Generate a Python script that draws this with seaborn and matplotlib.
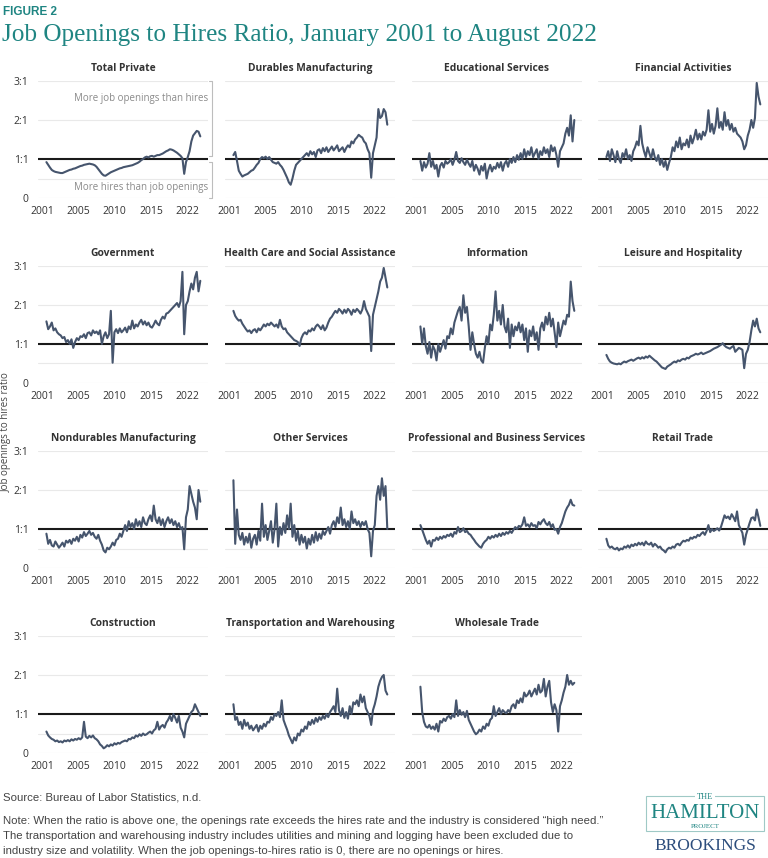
import numpy as np
import pandas as pd
import matplotlib
matplotlib.use("Agg")
import matplotlib.pyplot as plt
import matplotlib.transforms as mtransforms
from matplotlib.patches import Rectangle
import seaborn as sns

# ---------------- data (quarterly readings, 2001Q1 .. 2022Q3) ----------------
industries = [
    "Total Private", "Durables Manufacturing", "Educational Services", "Financial Activities",
    "Government", "Health Care and Social Assistance", "Information", "Leisure and Hospitality",
    "Nondurables Manufacturing", "Other Services", "Professional and Business Services", "Retail Trade",
    "Construction", "Transportation and Warehousing", "Wholesale Trade",
]

total_private = [
    0.92, 0.85, 0.78, 0.72, 0.69, 0.67, 0.66, 0.65, 0.64, 0.64, 0.66, 0.68,
    0.70, 0.72, 0.73, 0.75, 0.76, 0.78, 0.80, 0.82, 0.83, 0.85, 0.86, 0.87,
    0.88, 0.87, 0.86, 0.84, 0.80, 0.74, 0.68, 0.62, 0.58, 0.57, 0.60, 0.63,
    0.66, 0.68, 0.70, 0.72, 0.74, 0.76, 0.77, 0.79, 0.80, 0.81, 0.82, 0.83,
    0.84, 0.86, 0.88, 0.90, 0.93, 0.97, 1.00, 1.04, 1.06, 1.04, 1.07, 1.08,
    1.06, 1.08, 1.10, 1.10, 1.12, 1.14, 1.17, 1.20, 1.22, 1.25, 1.24, 1.22,
    1.19, 1.16, 1.12, 1.08, 1.02, 0.62, 0.92, 1.05, 1.20, 1.45, 1.60, 1.66,
    1.72, 1.70, 1.58,
]
durables_mfg = [
    1.10, 1.18, 0.95, 0.70, 0.62, 0.55, 0.58, 0.60, 0.62, 0.66, 0.70, 0.72,
    0.78, 0.85, 0.90, 1.00, 1.05, 1.02, 1.06, 1.00, 1.05, 0.98, 0.92, 0.90,
    0.88, 0.92, 0.85, 0.80, 0.72, 0.62, 0.52, 0.40, 0.34, 0.50, 0.70, 0.85,
    0.90, 0.95, 1.00, 1.05, 1.10, 1.15, 1.08, 1.20, 1.12, 1.18, 1.05, 1.22,
    1.25, 1.15, 1.28, 1.20, 1.30, 1.18, 1.25, 1.32, 1.22, 1.28, 1.35, 1.20,
    1.25, 1.30, 1.18, 1.28, 1.35, 1.30, 1.45, 1.40, 1.50, 1.55, 1.62, 1.58,
    1.55, 1.45, 1.40, 1.25, 1.15, 0.52, 1.15, 1.35, 1.55, 2.28, 2.05, 2.10,
    2.28, 2.20, 1.88,
]
educational = [
    0.95, 0.70, 0.92, 0.78, 0.88, 1.15, 0.80, 0.95, 0.75, 0.85, 0.55, 0.82,
    0.90, 0.78, 0.95, 0.88, 0.92, 1.00, 0.85, 0.98, 1.18, 0.95, 0.90, 1.02,
    0.92, 0.85, 0.98, 0.88, 0.80, 0.95, 0.70, 0.85, 0.75, 0.60, 0.82, 0.70,
    0.88, 0.50, 0.72, 0.85, 0.68, 0.80, 0.75, 0.90, 0.78, 0.92, 0.70, 0.88,
    0.95, 0.80, 1.00, 0.90, 1.05, 0.92, 1.10, 0.98, 1.15, 1.00, 1.25, 1.05,
    1.20, 1.10, 1.30, 1.05, 1.15, 1.25, 1.00, 1.20, 1.10, 1.30, 1.15, 1.25,
    1.05, 1.35, 1.20, 1.30, 1.10, 0.80, 1.20, 1.30, 1.40, 1.65, 1.80, 1.60,
    2.12, 1.45, 2.00,
]
financial = [
    1.05, 1.20, 0.95, 1.25, 1.10, 0.92, 1.20, 1.00, 0.90, 1.15, 1.05, 1.25,
    1.00, 1.10, 0.95, 1.20, 1.30, 1.45, 1.35, 1.85, 1.40, 1.20, 1.05, 1.30,
    1.15, 1.00, 1.25, 1.05, 0.95, 1.10, 0.85, 1.00, 0.80, 0.95, 0.72, 0.90,
    1.05, 1.30, 1.20, 1.45, 1.30, 1.55, 1.25, 1.40, 1.35, 1.50, 1.30, 1.60,
    1.40, 1.55, 1.75, 1.50, 1.65, 1.50, 1.70, 1.60, 1.75, 2.25, 1.70, 1.90,
    1.65, 1.85, 2.30, 1.80, 1.95, 1.75, 2.20, 1.85, 2.00, 1.75, 1.90, 1.70,
    1.80, 1.65, 1.60, 1.55, 1.45, 1.25, 1.35, 1.60, 1.75, 2.00, 1.80, 2.05,
    2.95, 2.60, 2.40,
]
government = [
    1.58, 1.38, 1.45, 1.55, 1.35, 1.40, 1.30, 1.25, 1.22, 1.15, 1.18, 1.05,
    1.10, 1.00, 1.12, 0.90, 1.05, 1.15, 1.10, 1.20, 1.18, 1.25, 1.15, 1.28,
    1.30, 1.22, 1.35, 1.28, 1.32, 1.25, 1.35, 1.00, 1.20, 1.30, 1.15, 1.25,
    1.85, 0.52, 1.30, 1.38, 1.28, 1.40, 1.30, 1.35, 1.42, 1.30, 1.45, 1.38,
    1.60, 1.40, 1.50, 1.45, 1.55, 1.62, 1.50, 1.58, 1.48, 1.55, 1.45, 1.42,
    1.50, 1.60, 1.52, 1.48, 1.62, 1.70, 1.65, 1.78, 1.80, 1.85, 1.90, 1.95,
    2.00, 2.05, 1.95, 2.10, 2.85, 1.25, 2.00, 2.10, 2.35, 2.55, 2.40, 2.70,
    2.85, 2.35, 2.62,
]
health_care = [
    1.85, 1.72, 1.65, 1.60, 1.62, 1.52, 1.45, 1.38, 1.32, 1.35, 1.28, 1.35,
    1.38, 1.30, 1.40, 1.35, 1.42, 1.50, 1.45, 1.52, 1.48, 1.55, 1.50, 1.45,
    1.50, 1.42, 1.62, 1.45, 1.38, 1.40, 1.30, 1.25, 1.20, 1.15, 1.10, 1.08,
    1.05, 0.95, 1.15, 1.25, 1.30, 1.25, 1.35, 1.32, 1.40, 1.35, 1.45, 1.50,
    1.45, 1.38, 1.48, 1.35, 1.42, 1.55, 1.65, 1.70, 1.78, 1.85, 1.80, 1.90,
    1.85, 1.78, 1.88, 1.80, 1.90, 1.85, 1.75, 1.88, 1.82, 1.90, 1.85, 1.78,
    1.88, 2.10, 1.90, 1.80, 1.70, 0.82, 1.75, 1.95, 2.15, 2.35, 2.60, 2.70,
    2.95, 2.70, 2.45,
]
information = [
    1.45, 1.00, 1.40, 0.95, 0.75, 1.05, 0.65, 0.95, 0.85, 0.58, 1.00, 0.80,
    0.95, 1.10, 0.88, 1.20, 1.15, 1.40, 1.25, 1.55, 1.70, 1.85, 1.95, 1.60,
    2.25, 1.80, 1.95, 1.45, 0.85, 1.30, 1.00, 0.75, 0.65, 0.80, 0.58, 0.52,
    0.90, 1.20, 1.00, 1.50, 1.35, 1.75, 2.35, 1.60, 1.85, 1.50, 2.00, 1.45,
    1.30, 1.65, 0.90, 1.50, 1.20, 1.45, 1.35, 1.55, 1.30, 1.50, 1.10, 1.40,
    0.80, 1.35, 1.20, 1.45, 1.10, 1.30, 0.85, 1.40, 1.55, 1.35, 1.70, 1.50,
    1.80, 1.45, 1.65, 1.30, 0.92, 1.55, 1.20, 1.40, 1.60, 1.50, 1.75, 1.70,
    2.60, 2.10, 1.85,
]
leisure = [
    0.72, 0.62, 0.55, 0.52, 0.50, 0.49, 0.48, 0.50, 0.48, 0.52, 0.55, 0.53,
    0.56, 0.58, 0.60, 0.57, 0.60, 0.63, 0.65, 0.62, 0.66, 0.63, 0.68, 0.65,
    0.70, 0.66, 0.62, 0.58, 0.55, 0.50, 0.45, 0.40, 0.38, 0.36, 0.42, 0.45,
    0.48, 0.52, 0.55, 0.53, 0.58, 0.56, 0.60, 0.62, 0.60, 0.65, 0.63, 0.68,
    0.70, 0.72, 0.75, 0.73, 0.75, 0.78, 0.74, 0.76, 0.78, 0.80, 0.82, 0.85,
    0.88, 0.90, 0.92, 0.95, 0.98, 1.02, 0.96, 0.92, 0.90, 0.88, 0.92, 0.95,
    0.80, 0.85, 0.90, 0.88, 0.85, 0.38, 0.75, 0.85, 1.05, 1.35, 1.60, 1.45,
    1.65, 1.40, 1.30,
]
nondurables_mfg = [
    0.88, 0.62, 0.72, 0.58, 0.55, 0.68, 0.60, 0.52, 0.58, 0.65, 0.55, 0.70,
    0.65, 0.72, 0.62, 0.75, 0.70, 0.80, 0.68, 0.85, 0.78, 0.92, 0.82, 0.88,
    0.95, 0.85, 0.90, 0.80, 0.75, 0.85, 0.70, 0.60, 0.45, 0.40, 0.52, 0.48,
    0.55, 0.65, 0.58, 0.72, 0.75, 0.88, 0.80, 0.95, 1.10, 0.95, 1.20, 1.05,
    1.15, 1.00, 1.25, 1.08, 1.20, 1.05, 1.30, 1.15, 1.10, 1.25, 1.35, 1.20,
    1.60, 1.25, 1.15, 1.30, 1.10, 1.25, 1.05, 1.20, 1.30, 1.15, 1.25, 1.10,
    1.20, 1.05, 1.15, 1.00, 1.05, 0.48, 1.30, 1.50, 2.10, 1.90, 1.70, 1.55,
    1.25, 2.00, 1.70,
]
other_services = [
    2.25, 0.62, 1.50, 0.85, 0.72, 0.90, 0.60, 0.80, 0.65, 0.88, 0.52, 0.75,
    0.85, 0.60, 0.95, 0.70, 1.65, 0.80, 1.10, 0.72, 0.95, 1.20, 0.65, 1.00,
    1.65, 0.55, 1.05, 0.85, 1.15, 0.90, 1.35, 1.00, 1.65, 0.80, 1.10, 0.70,
    0.95, 0.60, 0.85, 0.65, 0.80, 0.50, 0.75, 0.60, 0.85, 0.65, 0.92, 0.70,
    0.88, 0.75, 0.95, 0.85, 0.95, 1.05, 0.88, 1.10, 1.20, 1.05, 1.30, 1.15,
    1.55, 1.10, 1.25, 1.05, 1.20, 1.00, 1.45, 1.15, 1.25, 1.10, 1.20, 1.05,
    1.18, 1.10, 1.20, 1.00, 0.90, 0.30, 0.95, 1.10, 1.85, 2.10, 1.75, 2.30,
    1.85, 2.10, 1.00,
]
professional = [
    1.10, 0.98, 0.85, 0.72, 0.62, 0.70, 0.55, 0.72, 0.70, 0.78, 0.72, 0.80,
    0.75, 0.82, 0.78, 0.85, 0.82, 0.88, 0.80, 0.92, 0.88, 1.05, 0.92, 0.95,
    1.02, 0.92, 0.95, 0.88, 0.85, 0.78, 0.72, 0.65, 0.60, 0.55, 0.52, 0.62,
    0.68, 0.72, 0.80, 0.75, 0.82, 0.78, 0.85, 0.80, 0.88, 0.82, 0.90, 0.85,
    0.92, 0.88, 0.95, 0.90, 0.98, 1.05, 1.00, 1.08, 1.05, 1.12, 1.30, 1.08,
    1.12, 1.05, 1.15, 1.08, 1.10, 1.02, 1.18, 1.12, 1.20, 1.25, 1.15, 1.10,
    1.18, 1.05, 1.12, 0.98, 1.00, 0.88, 1.05, 1.15, 1.30, 1.45, 1.55, 1.62,
    1.75, 1.62, 1.60,
]
retail = [
    0.75, 0.58, 0.52, 0.55, 0.50, 0.48, 0.52, 0.45, 0.50, 0.48, 0.55, 0.52,
    0.58, 0.52, 0.60, 0.56, 0.62, 0.58, 0.65, 0.60, 0.65, 0.58, 0.68, 0.62,
    0.60, 0.65, 0.55, 0.62, 0.58, 0.52, 0.55, 0.48, 0.45, 0.40, 0.48, 0.52,
    0.50, 0.55, 0.52, 0.60, 0.62, 0.58, 0.65, 0.70, 0.68, 0.72, 0.70, 0.78,
    0.75, 0.80, 0.78, 0.85, 0.82, 0.88, 0.92, 0.85, 0.95, 1.10, 0.92, 1.00,
    0.95, 0.98, 1.02, 0.96, 1.05, 1.20, 1.35, 1.28, 1.32, 1.25, 1.38, 1.30,
    1.20, 1.45, 1.10, 1.00, 0.90, 0.60, 0.85, 1.00, 1.15, 1.28, 1.30, 1.22,
    1.50, 1.30, 1.08,
]
construction = [
    0.55, 0.45, 0.40, 0.36, 0.34, 0.30, 0.32, 0.28, 0.30, 0.27, 0.32, 0.30,
    0.33, 0.30, 0.35, 0.32, 0.36, 0.34, 0.38, 0.35, 0.40, 0.80, 0.42, 0.38,
    0.44, 0.40, 0.45, 0.38, 0.35, 0.30, 0.22, 0.18, 0.12, 0.15, 0.20, 0.17,
    0.22, 0.19, 0.25, 0.22, 0.26, 0.24, 0.28, 0.30, 0.32, 0.30, 0.36, 0.35,
    0.40, 0.38, 0.45, 0.42, 0.48, 0.44, 0.50, 0.46, 0.48, 0.52, 0.55, 0.50,
    0.58, 0.62, 0.80, 0.60, 0.68, 0.72, 0.65, 0.78, 0.85, 0.95, 0.82, 1.00,
    0.90, 0.78, 0.95, 0.65, 0.55, 0.40, 0.75, 0.85, 0.95, 1.05, 1.10, 1.25,
    1.15, 1.05, 0.95,
]
transportation = [
    1.25, 0.85, 0.92, 0.72, 0.80, 0.62, 0.85, 0.70, 0.78, 0.62, 0.70, 0.58,
    0.65, 0.72, 0.55, 0.70, 0.62, 0.75, 0.68, 0.80, 0.78, 0.92, 0.85, 1.00,
    0.95, 1.05, 0.92, 1.35, 0.85, 0.72, 0.60, 0.45, 0.35, 0.25, 0.40, 0.32,
    0.50, 0.45, 0.60, 0.55, 0.68, 0.62, 0.80, 0.72, 0.85, 0.75, 0.90, 0.80,
    0.92, 0.85, 0.95, 0.88, 1.00, 0.92, 1.05, 1.12, 1.20, 1.05, 1.65, 1.10,
    0.95, 1.15, 0.90, 1.05, 0.88, 1.20, 1.00, 1.30, 1.25, 1.35, 1.20, 1.50,
    1.30, 1.45, 1.15, 1.05, 0.95, 0.72, 1.10, 1.25, 1.45, 1.70, 1.85, 1.95,
    2.00, 1.60, 1.50,
]
wholesale = [
    1.70, 1.05, 0.80, 0.68, 0.65, 0.72, 0.62, 0.68, 0.60, 0.75, 0.55, 0.82,
    0.78, 0.88, 0.82, 0.92, 0.95, 0.88, 1.00, 0.92, 1.35, 0.95, 1.10, 0.98,
    1.05, 0.92, 1.08, 0.85, 0.75, 0.65, 0.55, 0.48, 0.52, 0.60, 0.55, 0.68,
    0.62, 0.75, 0.70, 0.85, 0.90, 1.20, 0.95, 1.05, 1.15, 1.00, 1.10, 1.05,
    1.02, 1.10, 1.05, 1.20, 1.25, 1.15, 1.35, 1.28, 1.40, 1.30, 1.55, 1.45,
    1.50, 1.60, 1.45, 1.55, 1.65, 1.50, 1.75, 1.55, 1.60, 1.90, 1.45, 1.70,
    1.85, 1.30, 1.05, 1.25, 1.10, 0.55, 1.20, 1.35, 1.55, 1.70, 2.00, 1.75,
    1.85, 1.75, 1.80,
]

series = [total_private, durables_mfg, educational, financial,
          government, health_care, information, leisure,
          nondurables_mfg, other_services, professional, retail,
          construction, transportation, wholesale]

x_tick_labels = ["2001", "2005", "2010", "2015", "2022"]
y_ticks = [0, 0.5, 1, 2, 3]
y_tick_labels = ["0", "", "1:1", "2:1", "3:1"]

# long-form table
frames = []
for name, vals in zip(industries, series):
    n = len(vals)
    frames.append(pd.DataFrame({
        "industry": name,
        "date": 2001.125 + 0.25 * np.arange(n),
        "ratio": vals,
    }))
df = pd.concat(frames, ignore_index=True)

# ---------------- style ----------------
sns.set_theme(style="white")
plt.rcParams["font.family"] = ["Open Sans", "DejaVu Sans"]

TEAL = "#1f8582"
NAVY = "#2c4d7c"
LINE = "#46556d"
TXT = "#333333"

W, H = 768, 858
fig = plt.figure(figsize=(W / 100, H / 100), dpi=100)
fig.patch.set_facecolor("white")

col_left = [38, 225, 412, 598]
row_top = [81, 266, 451, 636]
ax_w, ax_h = 170, 117

xtick_pos = np.linspace(2000.5, 2020.8, 5)

for i, name in enumerate(industries):
    r, c = divmod(i, 4)
    left = col_left[c] / W
    bottom = 1 - (row_top[r] + ax_h) / H
    ax = fig.add_axes([left, bottom, ax_w / W, ax_h / H])
    ax.set_facecolor("white")
    ax.axhline(1, color="#1a1a1a", lw=1.5, zorder=1.5)
    sns.lineplot(data=df[df["industry"] == name], x="date", y="ratio", ax=ax,
                 color=LINE, linewidth=1.5, estimator=None, zorder=2)
    ax.set_xlim(1999.95, 2023.7)
    ax.set_ylim(0, 3)
    ax.set_yticks(y_ticks)
    if c == 0:
        ax.set_yticklabels(y_tick_labels)
    else:
        ax.set_yticklabels([""] * len(y_ticks))
    ax.set_xticks(xtick_pos)
    ax.set_xticklabels(x_tick_labels)
    ax.grid(axis="y", color="#e9e9e9", lw=0.8, zorder=0)
    ax.grid(axis="x", visible=False)
    for s in ax.spines.values():
        s.set_visible(False)
    ax.tick_params(axis="both", length=0, labelsize=7.5, colors=TXT)
    ax.tick_params(axis="x", pad=6)
    ax.tick_params(axis="y", pad=7)
    ax.set_xlabel("")
    ax.set_ylabel("")
    ax.set_title(name, fontsize=7.4, fontweight="bold", color=TXT, pad=7)

    if i == 0:
        tr = mtransforms.blended_transform_factory(ax.transAxes, ax.transData)
        ax.text(1.0, 2.56, "More job openings than hires", transform=tr,
                ha="right", va="center", fontsize=7, color="#8a8a8a")
        ax.text(1.0, 0.26, "More hires than job openings", transform=tr,
                ha="right", va="center", fontsize=7, color="#8a8a8a")
        bx, tk = 1.025, 0.018
        for y0, y1 in [(3.0, 1.07), (0.93, 0.0)]:
            ax.plot([bx - tk, bx, bx, bx - tk], [y0, y0, y1, y1], transform=tr,
                    color="#bdbdbd", lw=0.8, clip_on=False)

# y axis label
fig.text(6 / W, 1 - 432 / H, "Job openings to hires ratio", rotation=90,
         ha="center", va="center", fontsize=7, color="#444444")

# header
fig.text(3 / W, 1 - 12 / H, "FIGURE 2", ha="left", va="center", fontsize=8.5,
         fontweight="bold", color=TEAL, family=["Liberation Sans", "DejaVu Sans"])
fig.text(2 / W, 1 - 35 / H, "Job Openings to Hires Ratio, January 2001 to August 2022",
         ha="left", va="center", fontsize=18.2, color=TEAL,
         family=["Liberation Serif", "DejaVu Serif"])

# footer
foot = dict(ha="left", va="center", fontsize=8.2, color="#444444",
            family=["Liberation Sans", "DejaVu Sans"])
fig.text(3 / W, 1 - 797 / H, "Source: Bureau of Labor Statistics, n.d.", **foot)
notes = [
    "Note: When the ratio is above one, the openings rate exceeds the hires rate and the industry is considered \u201chigh need.\u201d",
    "The transportation and warehousing industry includes utilities and mining and logging have been excluded due to",
    "industry size and volatility. When the job openings-to-hires ratio is 0, there are no openings or hires.",
]
for k, t in enumerate(notes):
    fig.text(3 / W, 1 - (821 + 15 * k) / H, t, **foot)

# logo
serif = ["Liberation Serif", "DejaVu Serif"]
fig.patches.append(Rectangle((646 / W, 1 - 831 / H), 118 / W, 35 / H,
                             transform=fig.transFigure, fill=False,
                             edgecolor="#9fc9c6", lw=0.8))
fig.text(705 / W, 1 - 797 / H, "THE", ha="center", va="center", fontsize=6,
         color=TEAL, family=serif,
         bbox=dict(facecolor="white", edgecolor="none", pad=1))
fig.text(705 / W, 1 - 813 / H, "HAMILTON", ha="center", va="center", fontsize=15,
         color=TEAL, family=serif)
fig.text(705 / W, 1 - 827 / H, "PROJECT", ha="center", va="center", fontsize=5,
         color=TEAL, family=serif,
         bbox=dict(facecolor="white", edgecolor="none", pad=1))
fig.text(705 / W, 1 - 846 / H, "BROOKINGS", ha="center", va="center", fontsize=12.5,
         color=NAVY, family=serif)

fig.savefig("out.png", dpi=100, facecolor="white")
